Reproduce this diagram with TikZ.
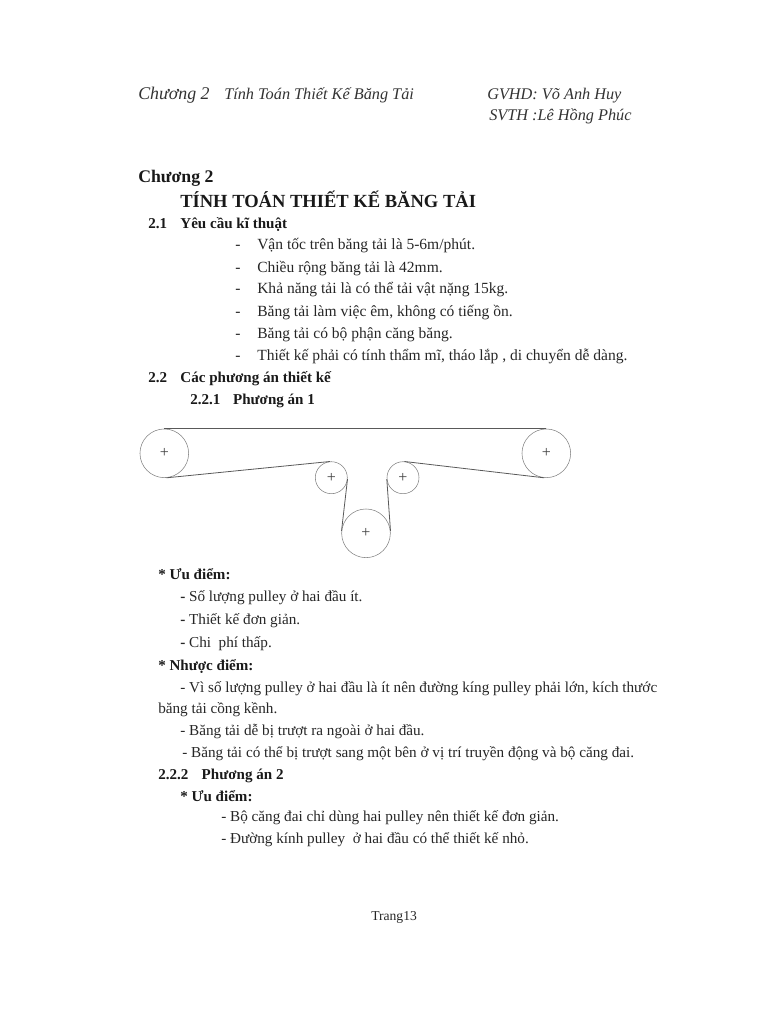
\documentclass[tikz,border=0pt]{standalone}
\usepackage{fontspec}
\setmainfont{Liberation Serif}
\tikzset{
  pulley/.style={circle, draw=black!50, inner sep=0pt, text=black!75, font=\fontsize{12}{12}\selectfont},
  belt/.style={draw=black!65, semithick},
  bodytext/.style={anchor=base west, inner sep=0pt, text=black!85, font=\fontsize{11.4}{13}\selectfont},
  reqtext/.style={bodytext, font=\fontsize{11.65}{13}\selectfont},
  headtext/.style={anchor=base west, inner sep=0pt, text=black!90, font=\fontsize{11.3}{13}\bfseries\selectfont},
  chaptext/.style={anchor=base west, inner sep=0pt, text=black!90, font=\fontsize{13.9}{15}\bfseries\selectfont},
  runhead/.style={anchor=base west, inner sep=0pt, text=black!80, font=\fontsize{12.2}{13}\itshape\selectfont},
}
\begin{document}
\begin{tikzpicture}[x=0.75pt,y=-0.75pt]
    \useasboundingbox (0,0) rectangle (768,1024);

    % running head
    \node[runhead, font=\fontsize{13.4}{15}\itshape\selectfont] (chap) at (138,99) {Chương 2};
    \node[runhead] (headtitle) at (224,99) {Tính Toán Thiết Kế Băng Tải};
    \node[runhead] (gvhd) at (487,99) {GVHD: Võ Anh Huy};
    \node[runhead] (svth) at (489,120) {SVTH :Lê Hồng Phúc};

    % chapter title
    \node[chaptext, font=\fontsize{13.3}{15}\bfseries\selectfont] (chaphead) at (138,182) {Chương 2};
    \node[chaptext] (title) at (180,207) {TÍNH TOÁN THIẾT KẾ BĂNG TẢI};

    % section 2.1
    \node[headtext] (sec21) at (148,228) {2.1\hspace{10pt}Yêu cầu kĩ thuật};
    \foreach \name/\ypos/\txt in {
        reqa/249/{Vận tốc trên băng tải là 5-6m/phút.},
        reqb/272/{Chiều rộng băng tải là 42mm.},
        reqc/293/{Khả năng tải là có thể tải vật nặng 15kg.},
        reqd/316/{Băng tải làm việc êm, không có tiếng ồn.},
        reqe/338/{Băng tải có bộ phận căng băng.},
        reqf/360/{Thiết kế phải có tính thẩm mĩ, tháo lắp , di chuyển dễ dàng.}} {
      \node[reqtext] (\name dash) at (235,\ypos) {-};
      \node[reqtext] (\name) at (257,\ypos) {\txt};
    }

    % section 2.2
    \node[headtext] (sec22) at (148,382) {2.2\hspace{10pt}Các phương án thiết kế};
    \node[headtext] (sec221) at (190,404) {2.2.1\hspace{9.5pt}Phương án 1};

    % pulleys
    \node[pulley, minimum size=36.5pt] (pulleyL) at (164.3,453.3) {+};
    \node[pulley, minimum size=36.5pt] (pulleyR) at (546.3,453.3) {+};
    \node[pulley, minimum size=24pt]   (idleL)   at (331.3,477.7) {+};
    \node[pulley, minimum size=24pt]   (idleR)   at (403,477.7) {+};
    \node[pulley, minimum size=36.5pt] (drive)   at (366,533.3) {+};

    % belt
    \draw[belt] (pulleyL.north) -- (pulleyR.north);
    \draw[belt] (pulleyL.-85) -- (idleL.95);
    \draw[belt] (idleL.-5) -- (drive.175);
    \draw[belt] (drive.5) -- (idleR.185);
    \draw[belt] (idleR.85) -- (pulleyR.-95);

    % phuong an 1
    \node[headtext] (pros1) at (158,579) {* Ưu điểm:};
    \node[bodytext] (prosa) at (180,601) {\textbf{-} Số lượng pulley ở hai đầu ít.};
    \node[bodytext] (prosb) at (180,624) {\textbf{-} Thiết kế đơn giản.};
    \node[bodytext] (prosc) at (180,647) {\textbf{-} Chi\ \ phí thấp.};
    \node[headtext] (cons1) at (158,670) {* Nhược điểm:};
    \node[bodytext] (consa) at (180,692) {- Vì số lượng pulley ở hai đầu là ít nên đường kíng pulley phải lớn, kích thước};
    \node[bodytext] (consb) at (158,713) {băng tải cồng kềnh.};
    \node[bodytext] (consc) at (180,735) {- Băng tải dễ bị trượt ra ngoài ở hai đầu.};
    \node[bodytext] (consd) at (182,757) {- Băng tải có thể bị trượt sang một bên ở vị trí truyền động và bộ căng đai.};

    % phuong an 2
    \node[headtext] (sec222) at (158,779) {2.2.2\hspace{10pt}Phương án 2};
    \node[headtext] (pros2) at (180,801) {* Ưu điểm:};
    \node[bodytext] (prosd) at (221,821) {- Bộ căng đai chỉ dùng hai pulley nên thiết kế đơn giản.};
    \node[bodytext] (prose) at (221,843) {- Đường kính pulley\ \ ở hai đầu có thể thiết kế nhỏ.};

    \node[bodytext, font=\fontsize{10.2}{12}\selectfont] (page) at (371,920) {Trang13};
\end{tikzpicture}
\end{document}
